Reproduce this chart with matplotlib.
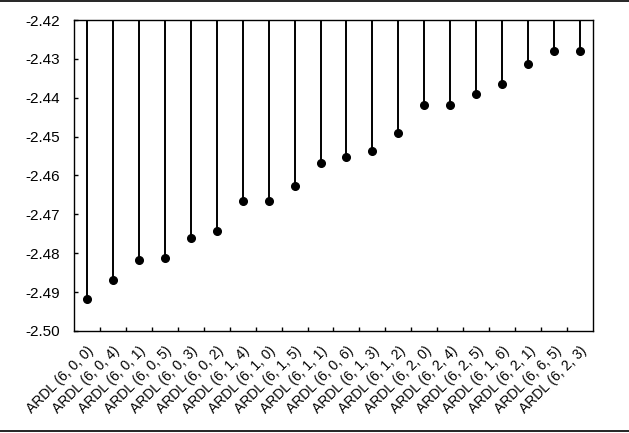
import matplotlib
matplotlib.use('Agg')
import matplotlib.pyplot as plt
from matplotlib.lines import Line2D
import numpy as np

## model labels, ordered as in the chart
models = ['ARDL (6, 0, 0)', 'ARDL (6, 0, 4)', 'ARDL (6, 0, 1)', 'ARDL (6, 0, 5)',
          'ARDL (6, 0, 3)', 'ARDL (6, 0, 2)', 'ARDL (6, 1, 4)', 'ARDL (6, 1, 0)',
          'ARDL (6, 1, 5)', 'ARDL (6, 1, 1)', 'ARDL (6, 0, 6)', 'ARDL (6, 1, 3)',
          'ARDL (6, 1, 2)', 'ARDL (6, 2, 0)', 'ARDL (6, 2, 4)', 'ARDL (6, 2, 5)',
          'ARDL (6, 1, 6)', 'ARDL (6, 2, 1)', 'ARDL (6, 6, 5)', 'ARDL (6, 2, 3)']
## criterion values
values = [-2.4917, -2.4869, -2.4817, -2.4811, -2.4761, -2.4742, -2.4665, -2.4665,
          -2.4626, -2.4568, -2.4553, -2.4538, -2.4491, -2.4419, -2.4419, -2.4390,
          -2.4365, -2.4314, -2.4281, -2.4281]
y_ticks = [-2.50, -2.49, -2.48, -2.47, -2.46, -2.45, -2.44, -2.43, -2.42]

plt.rcParams['font.family'] = ['Liberation Sans', 'DejaVu Sans']

fig = plt.figure(figsize=(6.29, 4.33), dpi=100)
ax = fig.add_axes([0.1176, 0.2356, 0.8252, 0.7182])

x = np.arange(len(models))
top = max(y_ticks)
ax.vlines(x, values, top, color='black', linewidth=1.4)
ax.plot(x, values, 'o', color='black', markersize=5.5)

ax.set_xlim(-0.5, len(models) - 0.5)
ax.set_ylim(min(y_ticks), top)

ax.set_yticks(y_ticks)
ax.set_yticklabels([f'{v:.2f}' for v in y_ticks], fontsize=11)
ax.tick_params(axis='y', direction='in', length=3, width=1, pad=10)

## labels at centres, tick marks between categories
ax.set_xticks(x)
ax.set_xticklabels(models, rotation=45, ha='right', rotation_mode='anchor', fontsize=10)
ax.tick_params(axis='x', which='major', length=0, pad=9)
ax.set_xticks(x[:-1] + 0.5, minor=True)
ax.tick_params(axis='x', which='minor', direction='in', length=3, width=1)

for s in ax.spines.values():
    s.set_linewidth(1.0)

## horizontal rules at top and bottom of the figure
fig.add_artist(Line2D([0, 1], [0.997, 0.997], color='black', linewidth=1.2, transform=fig.transFigure))
fig.add_artist(Line2D([0, 1], [0.004, 0.004], color='black', linewidth=1.2, transform=fig.transFigure))

fig.savefig('out.png', dpi=100)
